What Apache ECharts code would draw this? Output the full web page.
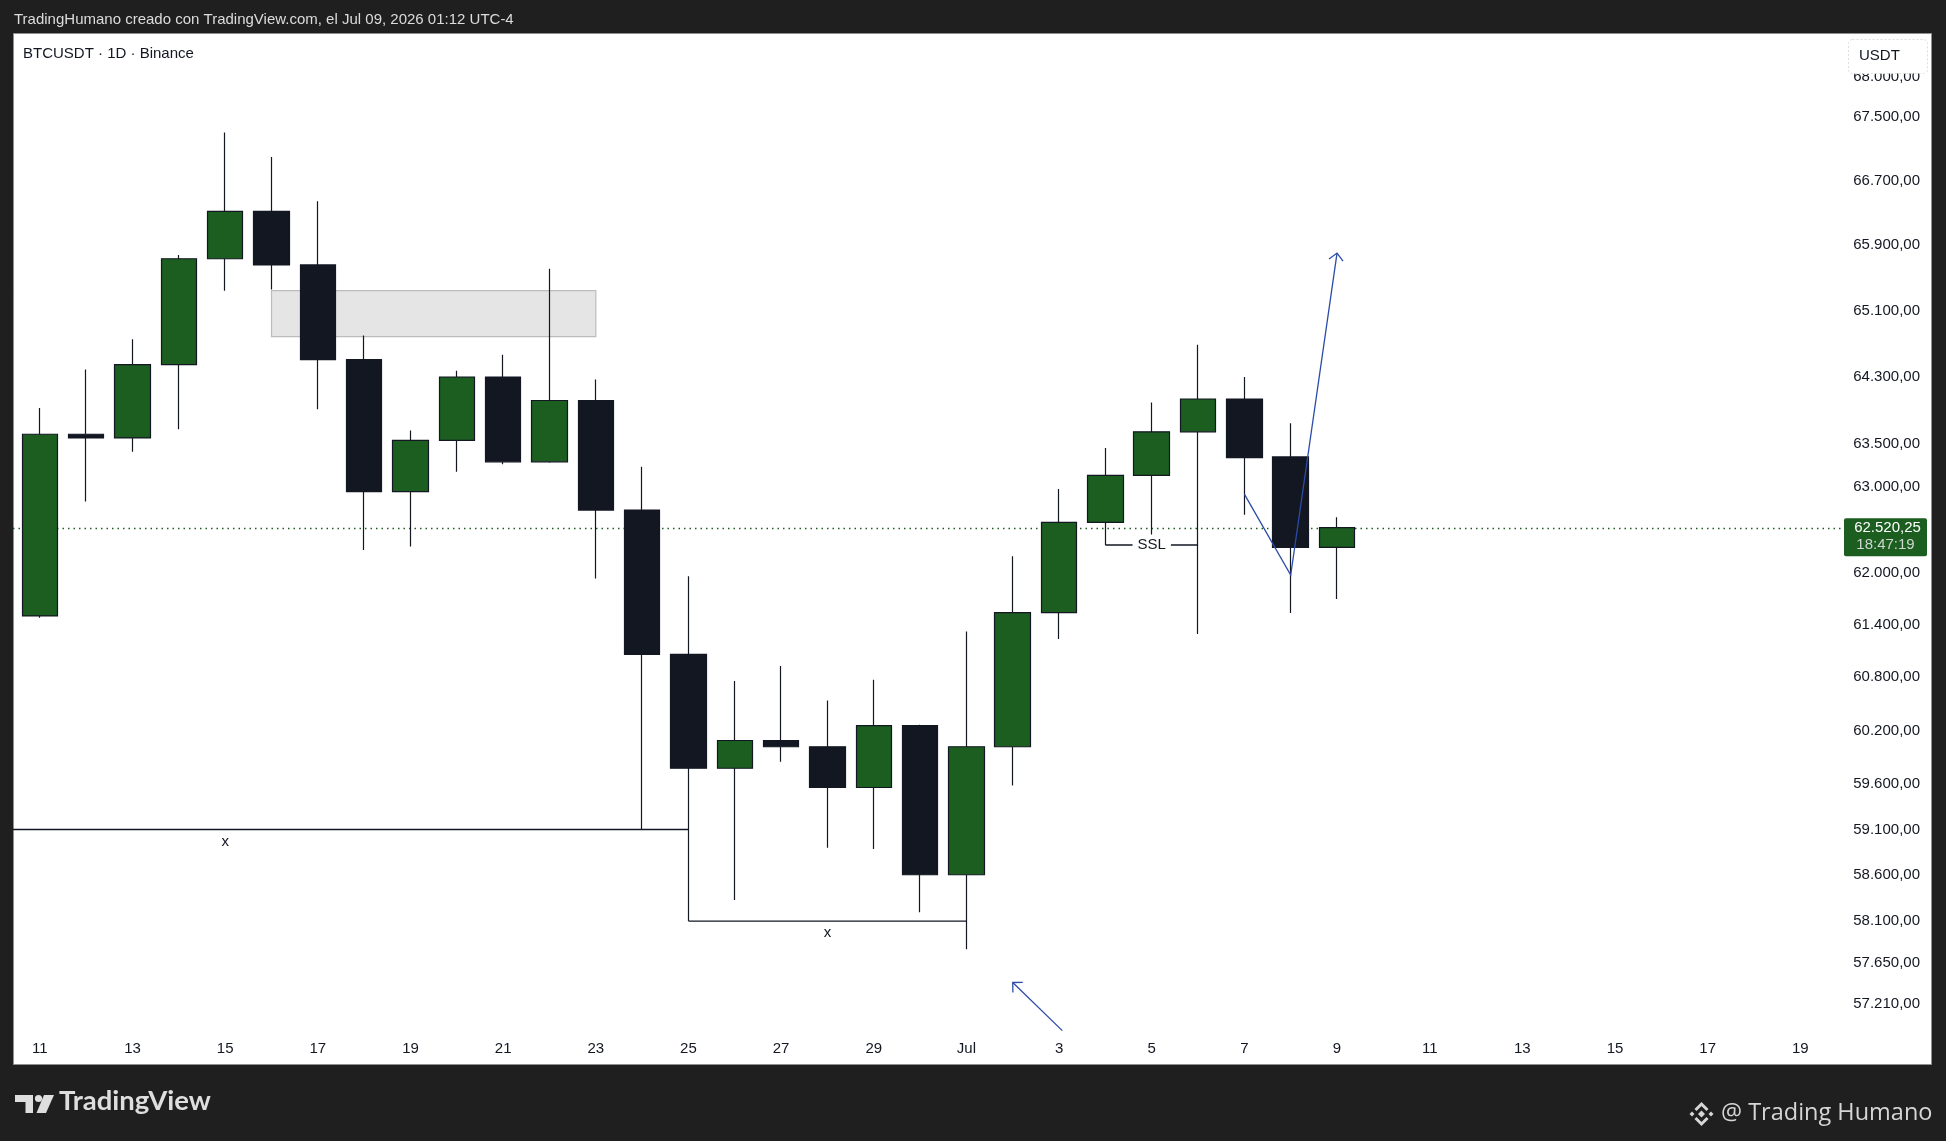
<!DOCTYPE html>
<html>
<head>
<meta charset="utf-8">
<script src="https://cdn.jsdelivr.net/npm/echarts@6/dist/echarts.min.js"></script>
<style>
html,body{margin:0;padding:0;background:#1f1f1f;}
#c{width:1946px;height:1141px;}
</style>
</head>
<body>
<div id="c"></div>
<script>
// ---------- data ----------
const dates = ['Jun 11','Jun 12','Jun 13','Jun 14','Jun 15','Jun 16','Jun 17','Jun 18','Jun 19','Jun 20',
  'Jun 21','Jun 22','Jun 23','Jun 24','Jun 25','Jun 26','Jun 27','Jun 28','Jun 29','Jun 30',
  'Jul 1','Jul 2','Jul 3','Jul 4','Jul 5','Jul 6','Jul 7','Jul 8','Jul 9'];
const opens  = [61500,63618,63574,64449,65733,66315,65657,64509,62942,63544,
  64300,63292,64019,62725,61062,59779,60089,60019,59565,60256,
  58604,60019,61538,62582,63131,63647,64037,63350,62290];
const closes = [63618,63574,64449,65733,66315,65657,64509,62942,63544,64300,
  63292,64019,62725,61062,59779,60089,60019,59565,60256,58604,
  60019,61538,62582,63131,63647,64037,63342,62290,62520.25];
const lows   = [61480,62826,63412,63676,65342,65357,63915,62259,62302,63175,
  63263,63280,61929,59100,58100,58330,59850,58899,58886,58195,
  57797,59586,61236,62319,62439,61293,62671,61533,61693];
const highs  = [63930,64389,64755,65778,67297,66990,66440,64800,63662,64374,
  64568,65611,64270,63234,61957,60758,60930,60537,60772,60265,
  61323,62188,62971,63456,63994,64687,64300,63748,62641];

const xTickLabels = ['11','13','15','17','19','21','23','25','27','29','Jul','3','5','7','9','11','13','15','17','19'];
const yTickValues = [68000,67500,66700,65900,65100,64300,63500,63000,62000,61400,60800,60200,59600,59100,58600,58100,57650,57210];
const priceRange = [56917, 68557];
const dayRange = [-0.58, 38.9];

const lastPrice = 62520.25;
const countdown = '18:47:19';

// drawings (day index, price)
const zoneBox = [5, 65343, 12, 64785];
const sweepLine1 = [[-0.58, 59100], [14, 59100]];
const sweepLine2 = [[14, 58100], [20, 58100]];
const sweepMarks = [[4, 59100], [17, 58100]];
const sslLine = [[23, 62319], [25, 62319]];
const projectionPath = [[26, 62911], [27, 61971], [28, 65802]];
const pointerArrow = [[22.07, 56926], [21.0, 57439]];

// ---------- helpers ----------
const L = Math.log;
function fmtPrice(v) {
  const s = v.toFixed(2);
  const parts = s.split('.');
  return parts[0].replace(/\B(?=(\d{3})+(?!\d))/g, '.') + ',' + parts[1];
}
const FONT = '"Liberation Sans", Arial, sans-serif';
const INK = '#131722';
const GREEN = '#1b5e20';
const BLUE = '#2b4ca8';

function pathSeries(id, pts, color, width, arrow, z) {
  const flat = [];
  pts.forEach(p => { flat.push(p[0], L(p[1])); });
  const xd = [], yd = [];
  pts.forEach((p, i) => { xd.push(2 * i); yd.push(2 * i + 1); });
  return {
    type: 'custom', id: id, coordinateSystem: 'cartesian2d', z: z, silent: true, clip: false,
    encode: { x: xd, y: yd },
    data: [flat],
    renderItem: function (params, api) {
      const cs = [];
      for (let i = 0; i < pts.length; i++) cs.push(api.coord([api.value(2 * i), api.value(2 * i + 1)]));
      const children = [{
        type: 'polyline', shape: { points: cs },
        style: { stroke: color, lineWidth: width, fill: null }
      }];
      if (arrow) {
        const tip = cs[cs.length - 1], prev = cs[cs.length - 2];
        const ang = Math.atan2(prev[1] - tip[1], prev[0] - tip[0]);
        const len = 10;
        const a1 = [tip[0] + len * Math.cos(ang + Math.PI / 4), tip[1] + len * Math.sin(ang + Math.PI / 4)];
        const a2 = [tip[0] + len * Math.cos(ang - Math.PI / 4), tip[1] + len * Math.sin(ang - Math.PI / 4)];
        children.push({
          type: 'polyline', shape: { points: [a1, tip, a2] },
          style: { stroke: color, lineWidth: width, fill: null }
        });
      }
      return { type: 'group', children: children };
    }
  };
}

const chart = echarts.init(document.getElementById('c'), null, { renderer: 'canvas' });

const candleData = dates.map((d, i) => [i, L(opens[i]), L(closes[i]), L(lows[i]), L(highs[i])]);

const option = {
  animation: false,
  backgroundColor: '#1f1f1f',
  grid: { left: 13, right: 104, top: 33, bottom: 109.5, outerBoundsMode: 'none', containLabel: false },
  xAxis: {
    type: 'value', min: dayRange[0], max: dayRange[1],
    axisLine: { show: false }, axisTick: { show: false }, splitLine: { show: false },
    axisLabel: {
      customValues: xTickLabels.map((_, i) => i * 2),
      formatter: v => xTickLabels[Math.round(v / 2)],
      color: INK, fontSize: 15, fontFamily: FONT, margin: 10
    }
  },
  yAxis: {
    type: 'value', position: 'right', min: L(priceRange[0]), max: L(priceRange[1]),
    axisLine: { show: false }, axisTick: { show: false }, splitLine: { show: false },
    axisLabel: {
      customValues: yTickValues.map(L),
      formatter: v => fmtPrice(Math.round(Math.exp(v))),
      color: INK, fontSize: 15, fontFamily: FONT, align: 'right', margin: 78
    }
  },
  graphic: [
    { type: 'rect', z: -100, shape: { x: 13.5, y: 33.5, width: 1918, height: 1031 },
      style: { fill: '#ffffff', stroke: '#8f8f8f', lineWidth: 1 } },
    { type: 'text', z: 10, left: 14, top: 12,
      style: { text: 'TradingHumano creado con TradingView.com, el Jul 09, 2026 01:12 UTC-4',
        fill: '#dcdcdc', font: '15px ' + FONT } },
    { type: 'text', z: 10, left: 23, top: 46,
      style: { text: 'BTCUSDT · 1D · Binance', fill: INK, font: '15px ' + FONT } },
    { type: 'rect', z: 50, shape: { x: 1848.5, y: 39.5, width: 79, height: 34, r: 4 },
      style: { fill: '#ffffff', stroke: '#dddddd', lineWidth: 1, lineDash: [2, 2] } },
    { type: 'text', z: 51, left: 1859, top: 48,
      style: { text: 'USDT', fill: INK, font: '15px ' + FONT } },
    // TradingView logo
    { type: 'group', z: 10, children: [
      { type: 'rect', shape: { x: 15, y: 1095, width: 18, height: 7 }, style: { fill: '#dedede' } },
      { type: 'rect', shape: { x: 25.5, y: 1095, width: 7.5, height: 18 }, style: { fill: '#dedede' } },
      { type: 'circle', shape: { cx: 38.5, cy: 1098.5, r: 3.6 }, style: { fill: '#dedede' } },
      { type: 'polygon', shape: { points: [[44, 1095], [54, 1095], [46, 1113], [36.5, 1113]] }, style: { fill: '#dedede' } }
    ] },
    { type: 'text', z: 10, left: 59, top: 1087,
      style: { text: 'TradingView', fill: '#dedede', font: 'bold 27.5px Lato, "Open Sans", sans-serif' } },
    // Binance-like icon + author
    { type: 'group', z: 10, x: 1701.5, y: 1114, children: [
      { type: 'polygon', shape: { points: [[0, -3.5], [3.5, 0], [0, 3.5], [-3.5, 0]] }, style: { fill: '#d6d6d6' } },
      { type: 'polygon', shape: { points: [[-9.5, -2.5], [-7, 0], [-9.5, 2.5], [-12, 0]] }, style: { fill: '#d6d6d6' } },
      { type: 'polygon', shape: { points: [[9.5, -2.5], [12, 0], [9.5, 2.5], [7, 0]] }, style: { fill: '#d6d6d6' } },
      { type: 'polyline', shape: { points: [[-6, -4], [0, -10], [6, -4]] }, style: { stroke: '#d6d6d6', lineWidth: 3, fill: null } },
      { type: 'polyline', shape: { points: [[-6, 4], [0, 10], [6, 4]] }, style: { stroke: '#d6d6d6', lineWidth: 3, fill: null } }
    ] },
    { type: 'text', z: 10, left: 1721, top: 1101,
      style: { text: '@ Trading Humano', fill: '#d6d6d6', font: '23.5px "Open Sans", "Noto Sans", sans-serif' } }
  ],
  series: [
    {
      type: 'custom', id: 'zone', coordinateSystem: 'cartesian2d', z: 1, silent: true,
      encode: { x: [0, 2], y: [1, 3] },
      data: [[zoneBox[0], L(zoneBox[1]), zoneBox[2], L(zoneBox[3])]],
      renderItem: function (params, api) {
        const p1 = api.coord([api.value(0), api.value(1)]);
        const p2 = api.coord([api.value(2), api.value(3)]);
        return { type: 'rect', shape: { x: p1[0], y: p1[1], width: p2[0] - p1[0], height: p2[1] - p1[1] },
          style: { fill: '#e5e5e5', stroke: '#bcbcbc', lineWidth: 1.2 } };
      }
    },
    {
      type: 'custom', id: 'priceLine', coordinateSystem: 'cartesian2d', z: 1.5, silent: true, clip: false,
      encode: { x: 0, y: 1 },
      data: [[dates.length - 1, L(lastPrice)]],
      renderItem: function (params, api) {
        const y = Math.round(api.coord([api.value(0), api.value(1)])[1]) + 0.5;
        const x0 = params.coordSys.x, x1 = params.coordSys.x + params.coordSys.width;
        return { type: 'line', shape: { x1: x0, y1: y, x2: x1, y2: y },
          style: { stroke: GREEN, lineWidth: 1.3, lineDash: [1.5, 4] } };
      }
    },
    {
      type: 'candlestick', id: 'btc', z: 3,
      encode: { x: 0, y: [1, 2, 3, 4] },
      data: candleData,
      barWidth: 36,
      itemStyle: { color: GREEN, color0: INK, borderColor: INK, borderColor0: INK, borderWidth: 1.2 }
    },
    pathSeries('sweep1', sweepLine1, INK, 1.4, false, 4),
    pathSeries('sweep2', sweepLine2, INK, 1.4, false, 4),
    pathSeries('projection', projectionPath, BLUE, 1.3, true, 4),
    pathSeries('pointer', pointerArrow, BLUE, 1.3, true, 4),
    {
      type: 'custom', id: 'ssl', coordinateSystem: 'cartesian2d', z: 4, silent: true,
      encode: { x: [0, 2], y: [1, 3] },
      data: [[sslLine[0][0], L(sslLine[0][1]), sslLine[1][0], L(sslLine[1][1])]],
      renderItem: function (params, api) {
        const p1 = api.coord([api.value(0), api.value(1)]);
        const p2 = api.coord([api.value(2), api.value(3)]);
        return { type: 'group', children: [
          { type: 'line', shape: { x1: p1[0], y1: p1[1], x2: p2[0], y2: p2[1] },
            style: { stroke: INK, lineWidth: 1.4 } },
          { type: 'text', style: { text: 'SSL', x: (p1[0] + p2[0]) / 2, y: p1[1], align: 'center',
            verticalAlign: 'middle', fill: INK, font: '15px ' + FONT, backgroundColor: '#ffffff', padding: [2, 5] } }
        ] };
      }
    },
    {
      type: 'custom', id: 'marks', coordinateSystem: 'cartesian2d', z: 4, silent: true,
      encode: { x: 0, y: 1 },
      data: sweepMarks.map(p => [p[0], L(p[1])]),
      renderItem: function (params, api) {
        const p = api.coord([api.value(0), api.value(1)]);
        return { type: 'text', style: { text: 'x', x: p[0], y: p[1] + 12, align: 'center',
          verticalAlign: 'middle', fill: INK, font: '15px ' + FONT } };
      }
    },
    {
      type: 'custom', id: 'priceTag', coordinateSystem: 'cartesian2d', z: 6, silent: true, clip: false,
      encode: { x: 0, y: 1 },
      data: [[dates.length - 1, L(lastPrice)]],
      renderItem: function (params, api) {
        const y = api.coord([api.value(0), api.value(1)])[1];
        const x = params.coordSys.x + params.coordSys.width + 2;
        const w = 83;
        return { type: 'group', children: [
          { type: 'rect', shape: { x: x, y: y - 9.5, width: w, height: 38, r: 2 }, style: { fill: GREEN } },
          { type: 'text', style: { text: fmtPrice(lastPrice), x: x + w / 2 + 2, y: y, align: 'center',
            verticalAlign: 'middle', fill: '#ffffff', font: '15px ' + FONT } },
          { type: 'text', style: { text: countdown, x: x + w / 2, y: y + 17.5, align: 'center',
            verticalAlign: 'middle', fill: '#cfd6cf', font: '15px ' + FONT } }
        ] };
      }
    }
  ]
};
chart.setOption(option);
</script>
</body>
</html>
